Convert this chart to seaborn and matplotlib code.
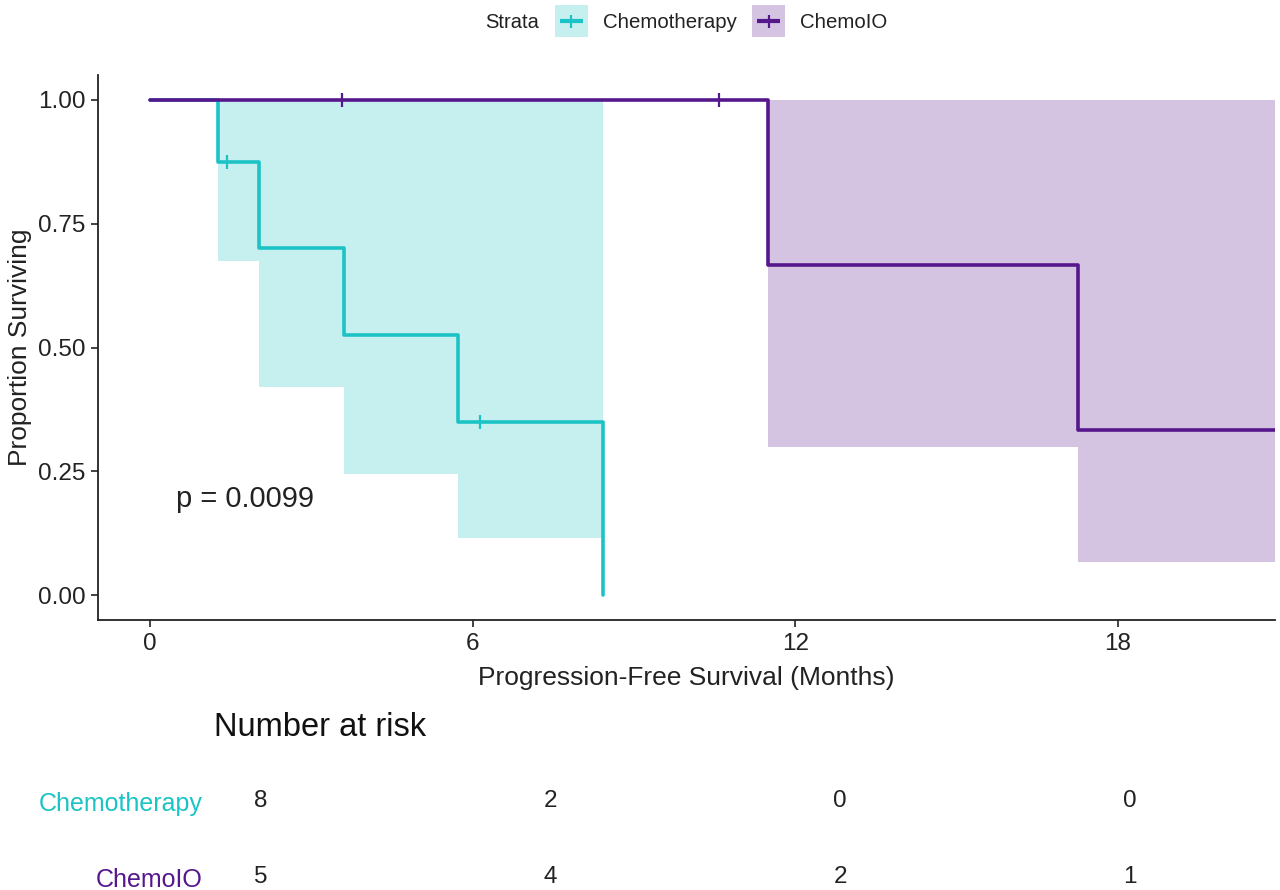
import numpy as np
import pandas as pd
import matplotlib
matplotlib.use("Agg")
import matplotlib.pyplot as plt
import seaborn as sns
from matplotlib.patches import Patch, Rectangle
from matplotlib.lines import Line2D
from matplotlib.legend_handler import HandlerBase

# ---------------- data ----------------
strata = ["Chemotherapy", "ChemoIO"]
colors = ["#1CC3C6", "#56178C"]

chemo_time = [0, 1.27, 2.03, 3.61, 5.72, 8.42]
chemo_surv = [1.0, 0.875, 0.70, 0.525, 0.35, 0.0]
chemo_lower = [1.0, 0.675, 0.42, 0.245, 0.115, 0.115]
chemo_upper = [1.0, 1.0, 1.0, 1.0, 1.0, 1.0]
chemo_censor_time = [1.42, 6.13]
chemo_censor_surv = [0.875, 0.35]

io_time = [0, 11.5, 17.25, 20.92]
io_surv = [1.0, 0.667, 0.333, 0.333]
io_lower = [1.0, 0.30, 0.067, 0.067]
io_upper = [1.0, 1.0, 1.0, 1.0]
io_censor_time = [3.56, 10.58]
io_censor_surv = [1.0, 1.0]

risk_times = [0, 6, 12, 18]
risk_chemo = [8, 2, 0, 0]
risk_io = [5, 4, 2, 1]

p_text = "p = 0.0099"
x_ticks = [0, 6, 12, 18]
y_ticks = [0.0, 0.25, 0.50, 0.75, 1.00]

# ---------------- style ----------------
sns.set_theme(style="ticks")
plt.rcParams["font.family"] = ["Liberation Sans", "DejaVu Sans"]

W, H = 1280, 890
fig = plt.figure(figsize=(W / 100, H / 100), dpi=100)

def px_box(left, top, right, bottom):
    return [left / W, 1 - bottom / H, (right - left) / W, (bottom - top) / H]

ax = fig.add_axes(px_box(98, 75, 1275, 620))
xlim = (-0.97, 20.92)

curves = [
    (chemo_time, chemo_surv, chemo_lower, chemo_upper, chemo_censor_time, chemo_censor_surv),
    (io_time, io_surv, io_lower, io_upper, io_censor_time, io_censor_surv),
]
for (t, s, lo, up, ct, cs), col, name in zip(curves, colors, strata):
    ax.fill_between(t, lo, up, step="post", color=col, alpha=0.25, linewidth=0)
    df = pd.DataFrame({"time": t, "surv": s})
    sns.lineplot(data=df, x="time", y="surv", ax=ax, color=col, lw=2.6,
                 drawstyle="steps-post", estimator=None, sort=False)
    dfc = pd.DataFrame({"time": ct, "surv": cs})
    sns.scatterplot(data=dfc, x="time", y="surv", ax=ax, marker="|", s=90,
                    color=col, edgecolor=col, linewidth=1.6, zorder=5)

ax.set_xlim(*xlim)
ax.set_ylim(-0.05, 1.05)
ax.set_xticks(x_ticks)
ax.set_yticks(y_ticks)
ax.set_yticklabels([f"{v:.2f}" for v in y_ticks])
ax.tick_params(axis="both", labelsize=17.5, colors="#222222", length=5, width=1.2, pad=4)
for sp in ["top", "right"]:
    ax.spines[sp].set_visible(False)
for sp in ["left", "bottom"]:
    ax.spines[sp].set_linewidth(1.3)
    ax.spines[sp].set_color("#222222")
ax.set_xlabel("Progression-Free Survival (Months)", fontsize=19, color="#222222", labelpad=8)
ax.set_ylabel("Proportion Surviving", fontsize=19, color="#222222", labelpad=4)
ax.text(0.48, 0.195, p_text, fontsize=21, color="#222222", va="center", ha="left")

# ---------------- legend ----------------
class KeyHandler(HandlerBase):
    def create_artists(self, legend, orig_handle, xdescent, ydescent, width, height,
                       fontsize, trans):
        c = orig_handle.get_facecolor()
        rect = Rectangle((-xdescent, -ydescent), width, height, facecolor=c,
                         alpha=0.25, edgecolor="none", transform=trans)
        x0, x1 = -xdescent + 0.15 * width, -xdescent + 0.85 * width
        ym = -ydescent + height / 2
        col = orig_handle.get_edgecolor()
        line = Line2D([x0, x1], [ym, ym], color=col, lw=3, solid_capstyle="butt",
                      transform=trans)
        xm = -xdescent + width / 2
        tick = Line2D([xm, xm], [ym - height * 0.2, ym + height * 0.2], color=col,
                      lw=1.6, solid_capstyle="butt", transform=trans)
        return [rect, line, tick]

handles = [Patch(facecolor=c, edgecolor=c) for c in colors]
fig.text(485 / W, 1 - 22 / H, "Strata", fontsize=14.5, color="#222222", va="center", ha="left")
fig.legend(handles, strata, loc="upper left", bbox_to_anchor=(555 / W, 1 - 5 / H),
           ncol=2, frameon=False, fontsize=14.7, handlelength=1.6, handleheight=2.05,
           handletextpad=0.75, columnspacing=0.75, borderpad=0, borderaxespad=0,
           handler_map={Patch: KeyHandler()}, labelcolor="#222222")

# ---------------- risk table ----------------
ax2 = fig.add_axes(px_box(214, 760, 1271, 890))
ax2.set_xlim(*xlim)
ax2.set_ylim(1.17, -0.54)
for row, counts in enumerate([risk_chemo, risk_io]):
    for t, n in zip(risk_times, counts):
        ax2.text(t, row, str(n), fontsize=17.5, color="#222222", ha="center", va="center")
ax2.set_yticks([0, 1])
ax2.set_yticklabels(strata, fontsize=18)
for lab, c in zip(ax2.get_yticklabels(), colors):
    lab.set_color(c)
ax2.tick_params(axis="y", length=0, pad=8)
ax2.set_xticks([])
for sp in ax2.spines.values():
    sp.set_visible(False)
ax2.patch.set_alpha(0)
fig.text(214 / W, 1 - 727 / H, "Number at risk", fontsize=23.5, color="#111111", va="center", ha="left")

fig.savefig("out.png", dpi=100)
